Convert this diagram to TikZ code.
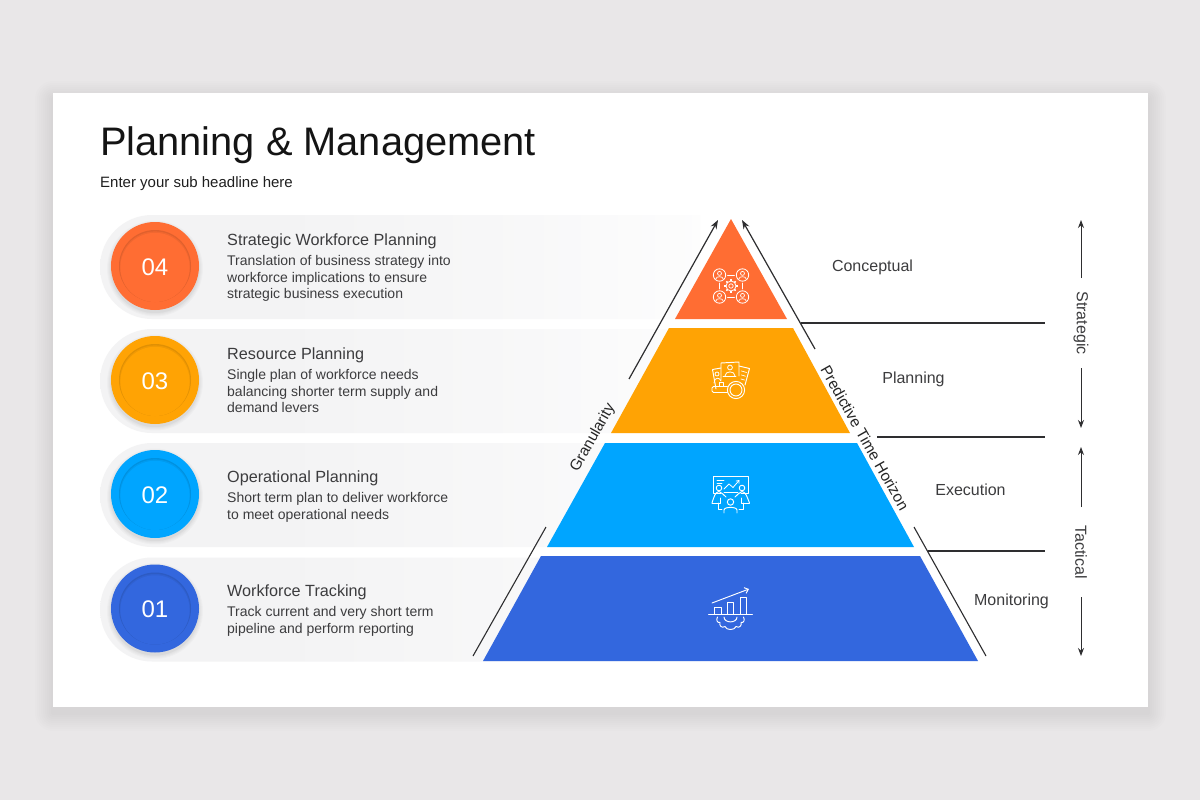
\documentclass[tikz,border=0pt]{standalone}
\usepackage{fontspec}
\setmainfont{Liberation Sans}
\usetikzlibrary{arrows.meta}
\definecolor{pagebg}{HTML}{E9E7E8}
\definecolor{inktext}{HTML}{3C3C3E}
\definecolor{linedark}{HTML}{2E2E30}
\definecolor{cOrange}{HTML}{FF6D33}
\definecolor{cAmber}{HTML}{FFA304}
\definecolor{cBlue}{HTML}{00A5FF}
\definecolor{cNavy}{HTML}{3367DE}
\pgfdeclarehorizontalshading{pillshade}{100bp}{
  rgb(0bp)=(0.953,0.953,0.957); rgb(40bp)=(0.953,0.953,0.957);
  rgb(60bp)=(0.972,0.972,0.975); rgb(78bp)=(0.995,0.995,0.995);
  rgb(86bp)=(1,1,1); rgb(100bp)=(1,1,1)}
\tikzset{
  x=1pt,y=-1pt,
  headtext/.style={anchor=base west,inner sep=0,text=inktext,font=\fontsize{16.2}{18}\selectfont},
  bodytext/.style={anchor=north west,inner sep=0,align=left,text=inktext,font=\fontsize{14}{16.7}\selectfont},
  sidetext/.style={anchor=center,inner sep=0,text=inktext,font=\fontsize{16}{18}\selectfont},
  edgetext/.style={anchor=center,inner sep=0,text=black!85,font=\fontsize{15.4}{18}\selectfont},
  numtext/.style={circle,inner sep=0,minimum size=88pt,text=white,font=\fontsize{24}{24}\selectfont},
  rule/.style={draw=linedark,line width=1.1pt},
  slantarrow/.style={draw=linedark,line width=1.2pt,-{Stealth[length=9pt,width=6.5pt]}},
  sidearrow/.style={draw=linedark,line width=1pt,-{Stealth[length=8pt,width=6pt]}},
  ico/.style={draw=white,line width=0.95pt,line join=round,line cap=round},
}
\newcommand{\rowitem}[4]{% id, y-centre, colour, number
  \path[shading=pillshade] (152,#2-52) arc[start angle=90,end angle=270,radius=52pt] -- (700,#2+52) -- (700,#2-52) -- cycle;
  \foreach \r in {48,47,46,45,44.5}{\fill[black,opacity=.018] (155,#2+1.5) circle[radius=\r pt];}
  \fill[#3] (155,#2-1) circle[radius=44pt];
  \fill[#3!88!black] (155,#2-1) circle[radius=36pt];
  \fill[#3!94!black] (155,#2-0.4) circle[radius=35.2pt];
  \fill[#3] (155,#2+0.4) circle[radius=34.6pt];
  \node[numtext] (num#1) at (155,#2) {#4};
}
\newcommand{\person}[2]{%
  \draw[ico,line width=.8pt] (#1,#2) circle[radius=6.2pt];
  \draw[ico,line width=.7pt] (#1,#2-1.6) circle[radius=2pt];
  \draw[ico,line width=.7pt] (#1-3.6,#2+3.8) .. controls (#1-3.4,#2+1) and (#1+3.4,#2+1) .. (#1+3.6,#2+3.8);
}
\begin{document}
\begin{tikzpicture}
\useasboundingbox (0,0) rectangle (1200,800);
\fill[pagebg] (0,0) rectangle (1200,800);
% card shadow
\foreach \d in {18,16,...,2}{
  \fill[black,opacity=.006,rounded corners=\d pt] (53-\d,93+6-\d) rectangle (1148+\d,707+6+\d);}
\fill[white] (53,93) rectangle (1148,707);

\node[anchor=base west,inner sep=0,text=black!92,font=\fontsize{39.8}{44}\selectfont] (title) at (100,155) {Planning \& Management};
\node[anchor=base west,inner sep=0,text=black!88,font=\fontsize{15}{17}\selectfont] (sub) at (100,187) {Enter your sub headline here};

\rowitem{4}{267}{cOrange}{04}
\rowitem{3}{381}{cAmber}{03}
\rowitem{2}{495}{cBlue}{02}
\rowitem{1}{609.5}{cNavy}{01}

\node[headtext] (h4) at (227,245) {Strategic Workforce Planning};
\node[bodytext] (b4) at (227,255) {Translation of business strategy into\\workforce implications to ensure\\strategic business execution};
\node[headtext] (h3) at (227,359) {Resource Planning};
\node[bodytext] (b3) at (227,369) {Single plan of workforce needs\\balancing shorter term supply and\\demand levers};
\node[headtext] (h2) at (227,482) {Operational Planning};
\node[bodytext] (b2) at (227,492.5) {Short term plan to deliver workforce\\to meet operational needs};
\node[headtext] (h1) at (227,596) {Workforce Tracking};
\node[bodytext] (b1) at (227,606.5) {Track current and very short term\\pipeline and perform reporting};

% pyramid
\fill[cOrange] (731,219) -- (787,319) -- (675,319) -- cycle;
\fill[cAmber] (669,328) -- (793,328) -- (850,433) -- (611,433) -- cycle;
\fill[cBlue] (605,443) -- (857,443) -- (914,547) -- (547,547) -- cycle;
\fill[cNavy] (541,556) -- (920,556) -- (978,661) -- (483,661) -- cycle;

% slanted edges
\coordinate (la) at (473,656); \coordinate (lb) at (546,527);
\coordinate (lc) at (629,379); \coordinate (ld) at (718,220);
\coordinate (ra) at (815,349); \coordinate (rb) at (742,220);
\coordinate (rc) at (914,527); \coordinate (rd) at (986,656);
\draw[rule] (la) -- (lb);
\draw[slantarrow] (lc) -- (ld);
\draw[slantarrow] (ra) -- (rb);
\draw[rule] (rc) -- (rd);
\node[edgetext,rotate=60.5] (gran) at (593,438) {Granularity};
\node[edgetext,rotate=-60.5] (pred) at (865,438) {Predictive Time Horizon};

% level rules
\coordinate (s1) at (801,323); \coordinate (e1) at (1045,323);
\coordinate (s2) at (877,437); \coordinate (e2) at (1045,437);
\coordinate (s3) at (928,551); \coordinate (e3) at (1045,551);
\draw[rule] (s1) -- (e1);
\draw[rule] (s2) -- (e2);
\draw[rule] (s3) -- (e3);
\node[sidetext] (conc) at (872.5,267) {Conceptual};
\node[sidetext] (plan) at (913.5,379) {Planning};
\node[sidetext] (exec) at (970.5,489.5) {Execution};
\node[sidetext] (moni) at (1011.5,601.5) {Monitoring};

% side arrows
\coordinate (a1) at (1081,278); \coordinate (a2) at (1081,220);
\coordinate (a3) at (1081,368); \coordinate (a4) at (1081,428);
\coordinate (a5) at (1081,507); \coordinate (a6) at (1081,447);
\coordinate (a7) at (1081,597); \coordinate (a8) at (1081,656);
\draw[sidearrow] (a1) -- (a2);
\draw[sidearrow] (a3) -- (a4);
\draw[sidearrow] (a5) -- (a6);
\draw[sidearrow] (a7) -- (a8);
\node[sidetext,rotate=-90,font=\fontsize{16}{18}\selectfont] (strat) at (1081,323) {Strategic};
\node[sidetext,rotate=-90,font=\fontsize{16}{18}\selectfont] (tact) at (1081,552) {Tactical};

% icon: network
\person{719.5}{275}
\person{742.5}{275}
\person{719.5}{297}
\person{742.5}{297}
\draw[ico] (727.5,275) -- (734.5,275);
\draw[ico] (727.5,297) -- (734.5,297);
\draw[ico] (719.5,283) -- (719.5,289);
\draw[ico] (742.5,283) -- (742.5,289);
\foreach \a in {0,45,...,315}{\draw[ico,line width=1.5pt,line cap=butt] (731,286)+(\a:4.8pt) -- +(\a:6.6pt);}
\draw[ico,line width=.8pt] (731,286) circle[radius=5pt];
\draw[ico,line width=.7pt] (731,286) circle[radius=2.2pt];

% icon: documents and magnifier
\draw[ico] (721,380) -- (721,363) -- (739,362) -- (739,376);
\draw[ico] (721,368) -- (712.5,369.5) -- (716,389);
\draw[ico] (739,366) -- (749.5,368.5) -- (745,385);
\draw[ico,line width=.8pt] (730,367.5) circle[radius=2.4pt];
\draw[ico,line width=.8pt] (725,376) .. controls (725,370.5) and (735,370.5) .. (735,376);
\draw[ico,line width=.8pt] (723,376) -- (736,376);
\draw[ico,line width=.7pt] (741.5,371) -- (746.5,372.5) (741.5,375) -- (745.5,376.2) (741,379) -- (744.5,380);
\draw[ico,line width=.8pt] (717,374) circle[radius=2pt];
\draw[ico,line width=.8pt] (714,383) .. controls (714,377) and (720,377) .. (721,381);
\fill[cAmber] (736,390) circle[radius=9pt];
\draw[ico] (736,390) circle[radius=8.6pt];
\draw[ico] (736,390) circle[radius=6pt];
\draw[ico,rounded corners=1.5pt] (727.5,386.5) -- (712,386.5) -- (712,392.5) -- (727.5,392.5);
\draw[ico] (719,386.5) -- (719,382.5) -- (723,382.5) -- (723,386.5);

% icon: meeting at a board
\draw[ico] (721,493) -- (713.5,493) -- (713.5,476) -- (748,476) -- (748,493) -- (741,493);
\draw[ico,line width=.8pt] (717,480) -- (724,480) (717,483) -- (722,483);
\draw[ico,line width=.8pt,-{Straight Barb[length=2.5pt,width=4pt]}] (724,489) -- (729,484) -- (733,487.5) -- (739.5,480);
\draw[ico] (724,492.5) -- (738,492.5);
\draw[ico] (719,488) circle[radius=2.8pt];
\draw[ico] (742,488) circle[radius=2.8pt];
\draw[ico] (730.5,502) circle[radius=3.2pt];
\draw[ico] (712,503) .. controls (714,497) and (715,492) .. (719,491.5) .. controls (722,492) and (723,495) .. (726,497);
\draw[ico] (749.5,503) .. controls (747,497) and (746,492) .. (742,491.5) .. controls (739,492) and (738,495) .. (735,497);
\draw[ico] (712,503) -- (720,503) -- (720,498);
\draw[ico] (749.5,503) -- (741,503) -- (741,498);
\draw[ico] (724,513) -- (724,510) .. controls (724,506.5) and (737,506.5) .. (737,510) -- (737,513);
\draw[ico] (718,503) -- (718,509) -- (722,509);
\draw[ico] (743,503) -- (743,509) -- (739,509);

% icon: chart over gear
\draw[ico,-{Straight Barb[length=3.5pt,width=6pt]}] (712,603) -- (749,589);
\draw[ico] (708.5,614.5) -- (752.5,614.5);
\draw[ico] (714.5,614.5) -- (714.5,607) -- (721,607) -- (721,614.5);
\draw[ico] (727.5,614.5) -- (727.5,602) -- (733.5,602) -- (733.5,614.5);
\draw[ico] (740,614.5) -- (740,597) -- (746,597) -- (746,614.5);
\draw[ico] (717.5,617) .. controls (716,620) and (717,623) .. (720,622.5) .. controls (719,626) and (722,628.5) .. (725,626.5) .. controls (726,630.5) and (735,630.5) .. (736,626.5) .. controls (739,628.5) and (742,626) .. (741,622.5) .. controls (744,623) and (745,620) .. (743.5,617);
\draw[ico] (724,617) .. controls (724,623.5) and (737,623.5) .. (737,617);
\end{tikzpicture}
\end{document}
